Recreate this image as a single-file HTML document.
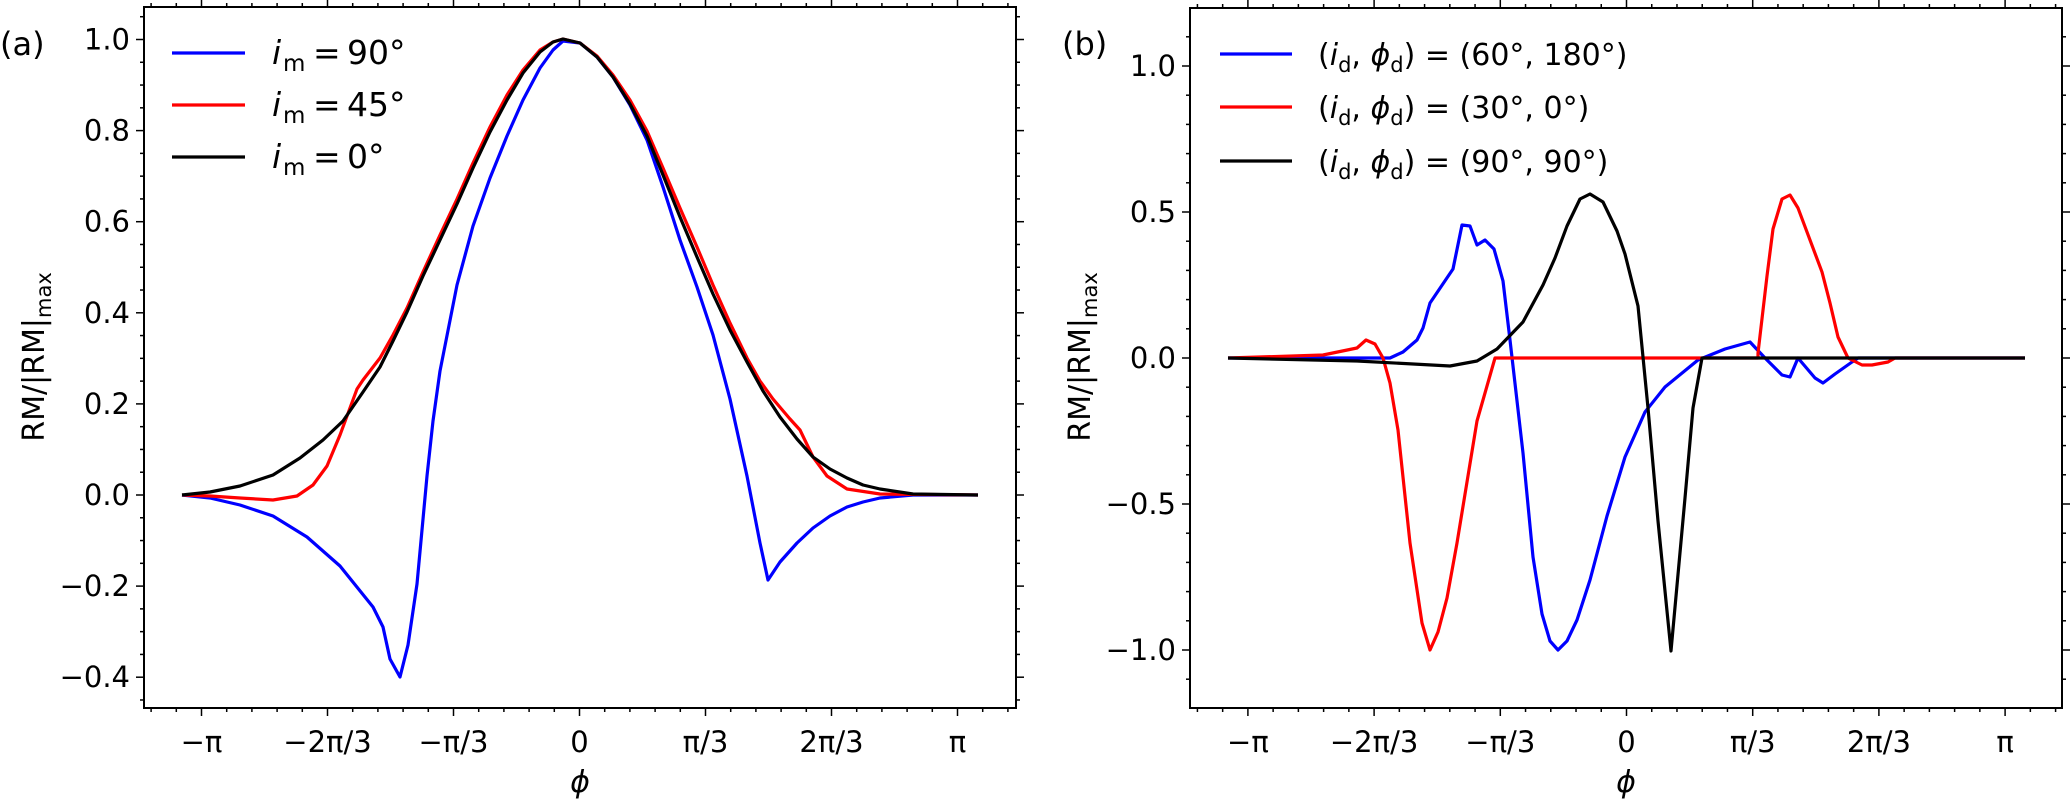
<!DOCTYPE html>
<html><head><meta charset="utf-8"><style>
html,body{margin:0;padding:0;background:#fff;}
svg{display:block;font-family:"DejaVu Sans","Liberation Sans",sans-serif;}
</style></head><body>
<svg id="s" width="2070" height="804" viewBox="0 0 2070 804" xmlns="http://www.w3.org/2000/svg">
<rect width="2070" height="804" fill="#fff"/>
<g fill="none" stroke-width="3.2" stroke-linejoin="round">
<!-- panel a -->
<polyline stroke="#0000ff" points="182,495 210,498 240,505 273,516 307,537 340,566 373,607 383,627 390,659 400,677 408,645 417,584 427,476 433,421 440,371 457,285 473,226 490,178 507,136 523,100 540,68 553,50 563,41 580,43 597,57 613,77 630,105 647,140 663,187 680,240 697,287 713,335 730,399 747,476 760,543 768,580 780,562 797,543 813,528 830,516 847,507 863,502 880,498 913,495 978,495"/>
<polyline stroke="#ff0000" points="182,495 210,496 240,498 273,500 297,496 313,485 327,466 340,435 357,389 363,380 380,358 393,335 407,308 423,272 440,235 457,199 473,163 490,127 507,95 523,70 540,50 553,42 563,39 580,43 597,56 613,75 630,100 647,131 663,168 680,208 697,247 713,285 730,323 747,358 760,381 773,399 790,419 800,430 813,457 827,476 847,489 880,494 978,495"/>
<polyline stroke="#000" points="182,495 210,492 240,486 273,475 300,458 323,440 343,421 363,392 380,367 393,341 407,312 423,276 440,240 457,204 473,168 490,132 507,100 523,73 540,52 553,42 563,39 580,43 597,57 613,77 630,104 647,136 663,175 680,217 697,257 713,294 730,330 747,362 763,391 780,417 797,439 813,457 830,469 847,478 863,485 880,489 913,494 978,495"/>
<!-- panel b -->
<polyline stroke="#0000ff" points="1228,358 1390,358 1403,352 1417,340 1423,328 1430,303 1453,269 1462,225 1470,226 1477,245 1485,240 1494,249 1503,281 1510,340 1523,453 1533,557 1542,614 1550,641 1558,650 1567,641 1577,620 1590,580 1607,516 1625,457 1645,412 1665,387 1698,360 1725,349 1750,342 1765,358 1782,375 1790,377 1798,358 1815,378 1823,383 1835,374 1852,362 1858,358 2025,358"/>
<polyline stroke="#ff0000" points="1228,358 1323,355 1357,348 1366,340 1375,344 1383,358 1390,383 1398,430 1410,543 1422,623 1430,650 1438,632 1447,598 1457,543 1477,421 1495,358 1758,358 1758,353 1767,276 1773,229 1782,199 1790,195 1798,208 1822,272 1830,303 1838,337 1848,358 1862,365 1872,365 1888,362 1895,358 2025,358"/>
<polyline stroke="#000" points="1228,358 1357,361 1450,366 1477,361 1497,349 1523,322 1543,285 1555,258 1567,226 1580,199 1590,194 1603,202 1617,231 1625,254 1638,306 1648,408 1658,521 1671,651 1685,498 1693,408 1702,358 2025,358"/>
</g>
<g id="ax" stroke="#000" fill="none"></g>
<g id="tx" fill="#000" font-size="29"></g>
<!-- legends -->
<g stroke-width="3.2">
<line x1="172" y1="53" x2="245" y2="53" stroke="#0000ff"/>
<line x1="172" y1="105" x2="245" y2="105" stroke="#ff0000"/>
<line x1="172" y1="157" x2="245" y2="157" stroke="#000"/>
<line x1="1220" y1="54" x2="1292" y2="54" stroke="#0000ff"/>
<line x1="1220" y1="107" x2="1292" y2="107" stroke="#ff0000"/>
<line x1="1220" y1="161" x2="1292" y2="161" stroke="#000"/>
</g>
<g font-size="33" fill="#000">
<text x="272" y="64" font-style="italic">i</text><text x="283" y="71" font-size="23">m</text><text x="313" y="64">=</text><text x="347" y="64">90°</text>
<text x="272" y="116" font-style="italic">i</text><text x="283" y="123" font-size="23">m</text><text x="313" y="116">=</text><text x="347" y="116">45°</text>
<text x="272" y="168" font-style="italic">i</text><text x="283" y="175" font-size="23">m</text><text x="313" y="168">=</text><text x="347" y="168">0°</text>
</g>
<g font-size="30" fill="#000">
<text x="1318" y="65">(<tspan font-style="italic">i</tspan><tspan font-size="21" dy="7">d</tspan><tspan dy="-7">, </tspan><tspan font-style="italic">ϕ</tspan><tspan font-size="21" dy="7">d</tspan><tspan dy="-7">) = (60°, 180°)</tspan></text>
<text x="1318" y="118">(<tspan font-style="italic">i</tspan><tspan font-size="21" dy="7">d</tspan><tspan dy="-7">, </tspan><tspan font-style="italic">ϕ</tspan><tspan font-size="21" dy="7">d</tspan><tspan dy="-7">) = (30°, 0°)</tspan></text>
<text x="1318" y="172">(<tspan font-style="italic">i</tspan><tspan font-size="21" dy="7">d</tspan><tspan dy="-7">, </tspan><tspan font-style="italic">ϕ</tspan><tspan font-size="21" dy="7">d</tspan><tspan dy="-7">) = (90°, 90°)</tspan></text>
<text x="0" y="55" font-size="32">(a)</text>
<text x="1062" y="55" font-size="32">(b)</text>
<text x="580" y="792" text-anchor="middle" font-style="italic">ϕ</text>
<text x="1626" y="792" text-anchor="middle" font-style="italic">ϕ</text>
<text transform="translate(44,357) rotate(-90)" text-anchor="middle">RM/|RM|<tspan font-size="21" dy="7">max</tspan></text>
<text transform="translate(1090,357) rotate(-90)" text-anchor="middle">RM/|RM|<tspan font-size="21" dy="7">max</tspan></text>
</g>
</svg>
<script>
var NS="http://www.w3.org/2000/svg",ax=document.getElementById("ax"),tx=document.getElementById("tx");
function L(x1,y1,x2,y2,w){var l=document.createElementNS(NS,"line");l.setAttribute("x1",x1);l.setAttribute("y1",y1);l.setAttribute("x2",x2);l.setAttribute("y2",y2);l.setAttribute("stroke-width",w||1.5);ax.appendChild(l);}
function T(x,y,s,a){var t=document.createElementNS(NS,"text");t.setAttribute("x",x);t.setAttribute("y",y);t.setAttribute("text-anchor",a);t.textContent=s;tx.appendChild(t);}
function panel(l,r,t,b,x0,dx,yt){
 var rc=document.createElementNS(NS,"rect");rc.setAttribute("x",l);rc.setAttribute("y",t);rc.setAttribute("width",r-l);rc.setAttribute("height",b-t);rc.setAttribute("stroke-width",2);ax.appendChild(rc);
 var labs=["−π","−2π/3","−π/3","0","π/3","2π/3","π"];
 for(var k=-20;k<=20;k++){var x=x0+k*dx/5;if(x<l+1||x>r-1)continue;var maj=(k%5==0);var len=maj?8:4;L(x,b,x,b+len);L(x,t,x,t-len);
  if(maj){var i=k/5+3;if(i>=0&&i<7)T(x,b+44,labs[i],"middle");}}
 yt.forEach(function(p){var len=p[2]?8:4;L(l,p[0],l-len,p[0]);L(r,p[0],r+len,p[0]);if(p[1]!==null)T(l-14,p[0]+10,p[1],"end");});
}
var ya=[];for(var v=-0.45;v<=1.07;v+=0.05){var vv=Math.round(v*100)/100;var y=495-vv*455.5;var maj=Math.abs(Math.round(vv*10)%2)==0&&Math.abs(vv*10-Math.round(vv*10))<1e-6;ya.push([y,maj?(vv<0?"−":"")+Math.abs(vv).toFixed(1):null,maj]);}
panel(144,1016,7,708,579.5,126,ya);
var yb=[];for(var k=-11;k<=11;k++){var vv=k/10;var y=358-vv*292;var maj=(k%5==0);yb.push([y,maj?(vv<0?"−":"")+Math.abs(vv).toFixed(1):null,maj]);}
panel(1190,2062,8,708,1626.5,126.2,yb);
</script>
</body></html>
